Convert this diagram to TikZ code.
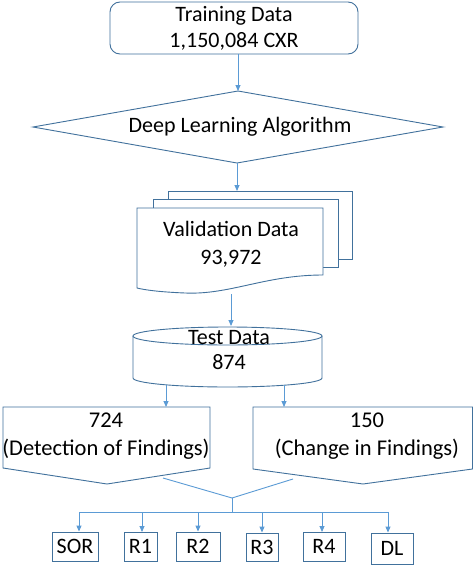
\documentclass[tikz,border=0pt]{standalone}
\usepackage{fontspec}
\setmainfont{Carlito}
\usetikzlibrary{arrows.meta}
\definecolor{edgec}{HTML}{41719C}
\definecolor{connc}{HTML}{5B9BD5}
\begin{document}
\begin{tikzpicture}[x=1pt,y=-1pt,
  shapeline/.style={draw=edgec, line width=0.9pt},
  conn/.style={draw=connc, line width=0.9pt},
  arr/.style={conn, -{Triangle[length=6pt,width=5pt]}},
  lbl/.style={font=\fontsize{22}{26}\selectfont, align=center, inner sep=0pt},
  smallbox/.style={shapeline, font=\fontsize{22}{26}\selectfont, inner sep=0pt, minimum height=29pt}]
\useasboundingbox (0,0) rectangle (474,568);
\fill[white] (0,0) rectangle (474,568);

% Training data
\node[shapeline, rounded corners=10pt, minimum width=248pt, minimum height=52pt, lbl] (train) at (234,28) {Training Data\\1,150,084 CXR};

% Diamond
\coordinate (dtop) at (238,91);
\coordinate (dright) at (443,127);
\coordinate (dbot) at (237,163);
\coordinate (dleft) at (33,127);
\draw[shapeline] (dtop) -- (dright) -- (dbot) -- (dleft) -- cycle;
\node[lbl] (dla) at (240,127) {Deep Learning Algorithm};
\draw[arr] (train.south -| dtop) -- (dtop);

% Validation (multidocument)
\coordinate (valtop) at (237,191);
\draw[shapeline, fill=white] (168,191) rectangle (352,259);
\draw[shapeline, fill=white] (153,199) rectangle (338,267);
\draw[shapeline, fill=white] (137,208) -- (323,208) -- (323,275)
  .. controls (265,275) and (230,295) .. (185,293)
  .. controls (160,292) and (145,290) .. (137,288) -- cycle;
\node[lbl, font=\fontsize{22}{28}\selectfont] (val) at (231,244) {Validation Data\\93,972};
\draw[arr] (dbot) -- (valtop -| dbot);
\coordinate (valbot) at (231,294);

% Test data (cylinder)
\coordinate (testtop) at (231,326);
\draw[shapeline, fill=white] (133,336) -- (133,378) arc[start angle=180, end angle=0, x radius=94.5, y radius=9] -- (322,336);
\draw[shapeline, fill=white] (227.5,336) ellipse [x radius=94.5, y radius=9];
\node[lbl, font=\fontsize{22}{25}\selectfont] (test) at (229,350.5) {Test Data\\874};
\draw[arr] (valbot) -- (testtop);
\coordinate (tl) at (166,385);
\coordinate (tr) at (284,385);

% Pentagons
\draw[shapeline] (3,407) -- (210,407) -- (210,468) -- (107,484) -- (3,468) -- cycle;
\draw[shapeline] (253,407) -- (472.5,407) -- (472.5,469) -- (363,484) -- (253,469) -- cycle;
\node[lbl, font=\fontsize{22.5}{28}\selectfont] (det) at (106,436) {724\\(Detection of Findings)};
\node[lbl, font=\fontsize{22.5}{28}\selectfont] (chg) at (367,436) {150\\(Change in Findings)};
\coordinate (pl) at (166,407);
\coordinate (pr) at (284,407);
\draw[arr] (tl) -- (pl);
\draw[arr] (tr) -- (pr);

% Merge
\coordinate (ml) at (163,478);
\coordinate (mr) at (293,479);
\coordinate (mj) at (232,498);
\coordinate (bus) at (232,512);
\draw[conn] (ml) -- (mj) -- (mr);
\draw[conn] (mj) -- (bus);
\coordinate (busl) at (79,512);
\coordinate (busr) at (388,512);
\draw[conn] (busl) -- (busr);

% Bottom boxes
\node[smallbox, minimum width=46pt] (sor) at (75,546.5) {SOR};
\node[smallbox, minimum width=33pt] (r1) at (140.5,546.5) {R1};
\node[smallbox, minimum width=44pt] (r2) at (198,546.5) {R2};
\node[smallbox, minimum width=32pt, minimum height=28pt] (r3) at (262,547) {R3};
\node[smallbox, minimum width=42pt] (r4) at (324,546.5) {R4};
\node[smallbox, minimum width=42pt, minimum height=31pt] (dl) at (392,548.5) {DL};

\draw[arr] (busl) -- (busl |- sor.north);
\draw[arr] (142,512) -- (142,532);
\draw[arr] (198,512) -- (r2.north);
\draw[arr] (262,512) -- (r3.north);
\draw[arr] (322,512) -- (322,532);
\draw[arr] (busr) -- (busr |- dl.north);
\end{tikzpicture}
\end{document}
